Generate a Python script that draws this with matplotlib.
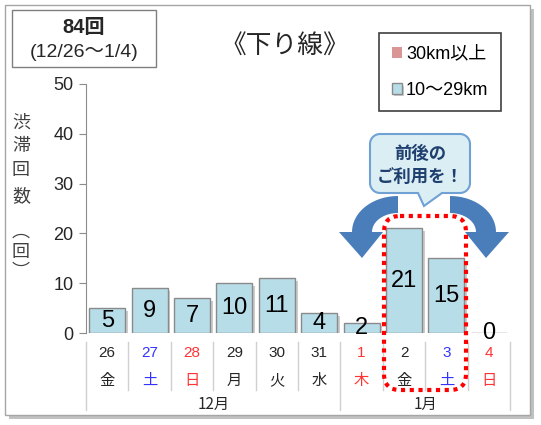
import matplotlib
matplotlib.use("Agg")
import matplotlib.pyplot as plt
import matplotlib.patheffects as pe
import numpy as np
from matplotlib.patches import Rectangle, Polygon, FancyBboxPatch

days = ["26", "27", "28", "29", "30", "31", "1", "2", "3", "4"]
weekdays = ["金", "土", "日", "月", "火", "水", "木", "金", "土", "日"]
day_colors = ["#262626", "#3333ff", "#ff3333", "#262626", "#262626",
              "#262626", "#ff3333", "#262626", "#3333ff", "#ff3333"]
months = ["12月", "1月"]
month_first = [0, 6]
month_last = [5, 9]
jams_10_29 = [5, 9, 7, 10, 11, 4, 2, 21, 15, 0]
jams_30 = [0, 0, 0, 0, 0, 0, 0, 0, 0, 0]
yticks = [0, 10, 20, 30, 40, 50]

JP = ["Noto Sans CJK JP", "DejaVu Sans"]
NUM = ["Liberation Sans", "Noto Sans CJK JP", "DejaVu Sans"]
TXT = "#262626"

W, H = 541, 425
fig = plt.figure(figsize=(W / 100, H / 100), dpi=100)


def px_box(x0, y0, x1, y1):
    return [x0 / W, 1 - y1 / H, (x1 - x0) / W, (y1 - y0) / H]


# background frame
bg = fig.add_axes([0, 0, 1, 1], zorder=0)
bg.set_xlim(0, W)
bg.set_ylim(H, 0)
bg.axis("off")
frame = Rectangle((5, 5), 525, 410, facecolor="white", edgecolor="#a6a6a6", lw=1,
                  path_effects=[pe.SimplePatchShadow(offset=(3, -3), shadow_rgbFace="#999999", alpha=0.6),
                                pe.Normal()])
bg.add_patch(frame)

# main chart
ax = fig.add_axes(px_box(86, 84, 510, 333), zorder=1)
ax.patch.set_alpha(0)
x = np.arange(len(days))
shadow = [pe.SimplePatchShadow(offset=(2, -2), shadow_rgbFace="#9a9a9a", alpha=0.5), pe.Normal()]
bars = ax.bar(x, jams_10_29, width=0.85, color="#b7dde8", edgecolor="#8a8a8a", lw=1,
              path_effects=shadow, label="10〜29km")
ax.bar(x, jams_30, bottom=jams_10_29, width=0.85, color="#d99694", lw=0, label="30km以上")
ax.bar_label(bars, label_type="center", fontsize=17, fontfamily=NUM, color="black")

ax.set_xlim(-0.5, 9.5)
ax.set_ylim(0, 50)
ax.set_yticks(yticks)
ax.set_xticks([])
for s in ["top", "right", "bottom"]:
    ax.spines[s].set_visible(False)
ax.spines["left"].set_color("#8c8c8c")
ax.tick_params(axis="y", direction="out", length=5, color="#8c8c8c", labelsize=13, labelcolor=TXT, pad=4)
for lab in ax.get_yticklabels():
    lab.set_fontfamily(NUM)

# category labels below the axis
tr = ax.get_xaxis_transform()
for i in range(len(days)):
    ax.text(i, -0.08, days[i], transform=tr, ha="center", va="center", fontsize=11,
            fontfamily=NUM, color=day_colors[i])
    ax.text(i, -0.19, weekdays[i], transform=tr, ha="center", va="center", fontsize=11,
            fontfamily=JP, color=day_colors[i])
for i in range(len(days) + 1):
    edge = i - 0.5
    long_line = i in (0, 6, 10)
    ax.plot([edge, edge], [-0.036, -0.31 if long_line else -0.23], transform=tr,
            color="#d0d0d0", lw=1, clip_on=False)
for m, a, b in zip(months, month_first, month_last):
    ax.text((a + b) / 2, -0.285, m, transform=tr, ha="center", va="center", fontsize=11,
            fontfamily=JP, color=TXT)

# y label, stacked vertically
ylab_chars = ["渋", "滞", "回", "数", "︵", "回", "︶"]
ylab_y = [123, 146, 170, 196, 232, 252, 272]

# overlay for annotations
ov = fig.add_axes([0, 0, 1, 1], zorder=2)
ov.set_xlim(0, W)
ov.set_ylim(H, 0)
ov.axis("off")
ov.patch.set_alpha(0)

for ch, yy in zip(ylab_chars, ylab_y):
    ov.text(21, yy, ch, ha="center", va="center", fontsize=13, fontfamily=JP, color="#404040")

# title box
ov.add_patch(Rectangle((12, 10), 144, 57, facecolor="white", edgecolor="#7f7f7f", lw=1))
ov.text(84, 27, "84回", ha="center", va="center", fontsize=14.5, fontweight="bold", fontfamily=NUM, color=TXT)
ov.text(84, 52, "(12/26〜1/4)", ha="center", va="center", fontsize=14, fontfamily=NUM, color=TXT)
ov.text(285, 46, "《下り線》", ha="center", va="center", fontsize=18.5, fontfamily=JP, color=TXT)

# legend
handles, labels = ax.get_legend_handles_labels()
leg = fig.legend(handles[::-1], labels[::-1], loc="upper left",
                 bbox_to_anchor=(379 / W, 1 - 33 / H), borderaxespad=0,
                 fancybox=False, edgecolor="#404040", framealpha=1,
                 handlelength=0.55, handleheight=0.55, handletextpad=0.25,
                 labelspacing=1.05, borderpad=0.7, prop={"family": NUM, "size": 13})
leg.get_frame().set_linewidth(1.2)

# speech bubble
def bubble(x0, y0, x1, y1, r, tail):
    pts = []
    corners = [(x1 - r, y0 + r, -90, 0), (x1 - r, y1 - r, 0, 90),
               (x0 + r, y1 - r, 90, 180), (x0 + r, y0 + r, 180, 270)]
    for k, (cx, cy, a0, a1) in enumerate(corners):
        t = np.radians(np.linspace(a0, a1, 10))
        pts += list(zip(cx + r * np.cos(t), cy + r * np.sin(t)))
        if k == 1:
            pts += tail
    return pts


tail = [(442, 193), (424, 206), (418, 193)]
ov.add_patch(Polygon(bubble(370, 134, 470, 193, 10, tail), closed=True,
                     facecolor="#dbeef4", edgecolor="#6fa1d4", lw=1.5))
ov.text(420, 154, "前後の", ha="center", va="center", fontsize=12.5, fontweight="bold",
        fontfamily=JP, color="#1f3f6e")
ov.text(420, 177, "ご利用を！", ha="center", va="center", fontsize=12.5, fontweight="bold",
        fontfamily=JP, color="#1f3f6e")

# curved arrows
def curved_arrow(cx, cy, side):
    rxo, ryo, rxi, ryi = 46, 36, 26, 19
    t = np.linspace(0, np.pi / 2, 20)
    outer = [(cx + side * rxo * np.sin(a), cy - ryo * np.cos(a)) for a in t]
    inner = [(cx + side * rxi * np.sin(a), cy - ryi * np.cos(a)) for a in t[::-1]]
    mid = cx + side * (rxo + rxi) / 2
    head = [(cx + side * (rxo + 13), cy), (mid, cy + 26), (cx + side * (rxi - 11), cy)]
    return outer + head + inner


ov.add_patch(Polygon(curved_arrow(398, 232, -1), closed=True, facecolor="#4a7ebb", edgecolor="none"))
ov.add_patch(Polygon(curved_arrow(450, 232, 1), closed=True, facecolor="#4a7ebb", edgecolor="none"))

# red dotted highlight
ov.add_patch(FancyBboxPatch((384, 216), 82, 174, boxstyle="round,pad=0,rounding_size=16",
                            facecolor="none", edgecolor="#ff0000", lw=3,
                            linestyle=(0, (1, 1.1))))

fig.savefig("out.png", dpi=100)
